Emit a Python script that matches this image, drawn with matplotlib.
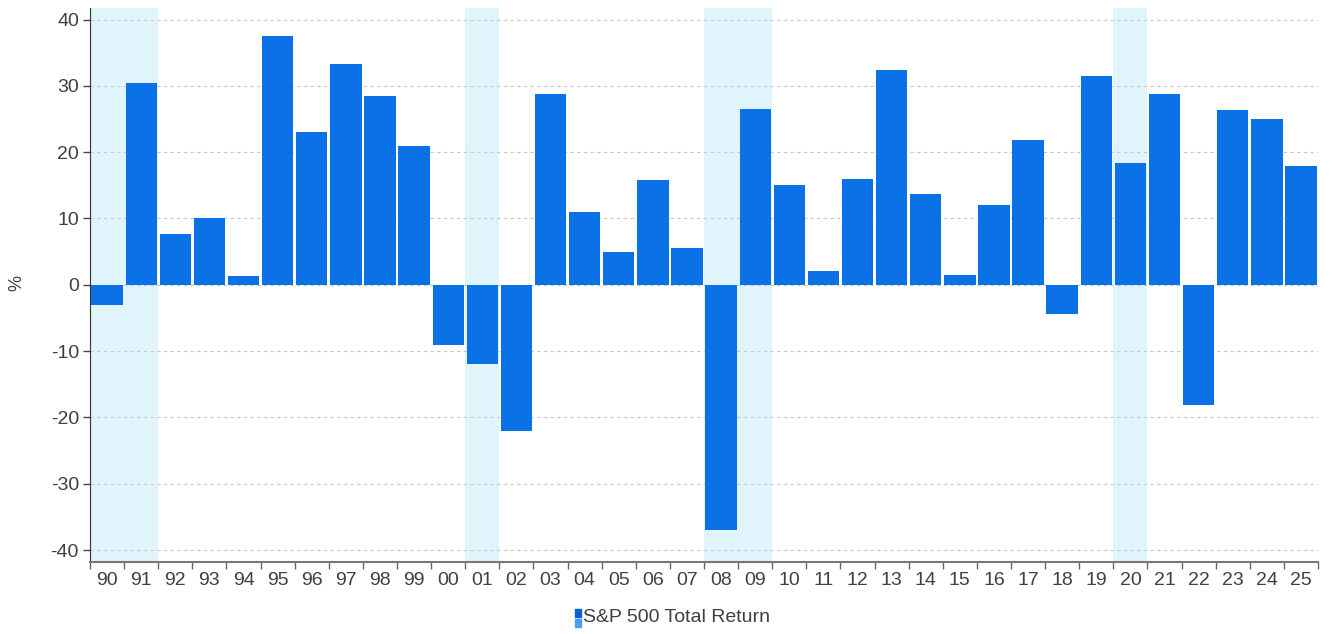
import numpy as np
import matplotlib.pyplot as plt
from matplotlib.patches import Rectangle

# S&P 500 total return by year, recession years shaded
years = ['90', '91', '92', '93', '94', '95', '96', '97', '98', '99',
         '00', '01', '02', '03', '04', '05', '06', '07', '08', '09',
         '10', '11', '12', '13', '14', '15', '16', '17', '18', '19',
         '20', '21', '22', '23', '24', '25']
returns = [-3.1, 30.4, 7.7, 10.1, 1.3, 37.5, 23.0, 33.3, 28.5, 20.9,
           -9.1, -11.9, -22.1, 28.7, 10.9, 4.9, 15.8, 5.5, -37.0, 26.5,
           15.1, 2.1, 16.0, 32.4, 13.7, 1.4, 12.0, 21.8, -4.4, 31.5,
           18.4, 28.7, -18.1, 26.3, 25.0, 17.9]
recessions = [('90', '91'), ('01', '01'), ('08', '09'), ('20', '20')]

BAR = '#0a72e6'
SHADE = '#e0f4fc'
TXT = '#404040'

plt.rcParams['font.family'] = ['Liberation Sans', 'DejaVu Sans']
plt.rcParams['axes.unicode_minus'] = False

fig = plt.figure(figsize=(13.32, 6.34), dpi=100)
ax = fig.add_axes([0.0676, 0.1136, 0.9219, 0.8734])

x = np.arange(len(years))
for a, b in recessions:
    ax.axvspan(years.index(a) - 0.5, years.index(b) + 0.5, color=SHADE, zorder=0, lw=0)

ax.bar(x, returns, width=0.92, color=BAR, zorder=3)

ax.set_xlim(-0.5, len(years) - 0.5)
ax.set_ylim(-41.8, 41.7)
ax.set_yticks(range(-40, 41, 10))
ax.set_xticks(x)
ax.set_xticklabels(years)
ax.set_xticks(np.arange(-0.5, len(years)), minor=True)
ax.tick_params(axis='x', which='major', length=0, pad=7, labelsize=14, colors=TXT)
ax.tick_params(axis='x', which='minor', length=5, width=1, color='#666666')
ax.tick_params(axis='y', length=5, width=1, color='#444444', labelsize=14,
               labelcolor=TXT, pad=3)

ax.grid(axis='y', linestyle=(0, (3, 3)), color='#c8c8c8', lw=0.8, zorder=1)
for s in ('top', 'right'):
    ax.spines[s].set_visible(False)
ax.spines['left'].set_color('#333333')
ax.spines['bottom'].set_color('#777777')
ax.spines['bottom'].set_linewidth(1.5)

fig.text(0.013, 1 - 283 / 634, '%', rotation=90, ha='center', va='center',
         fontsize=13, color=TXT)

# legend: stacked swatches + label
fig.patches.append(Rectangle((575 / 1332, 1 - 617 / 634), 6 / 1332, 8 / 634,
                             transform=fig.transFigure, color='#0a62d0'))
fig.patches.append(Rectangle((575 / 1332, 1 - 627 / 634), 6 / 1332, 8 / 634,
                             transform=fig.transFigure, color='#4a9ef0'))
fig.text(583 / 1332, 1 - 617 / 634, 'S&P 500 Total Return', ha='left', va='center',
         fontsize=14, color=TXT)

fig.savefig('out.png', dpi=100)
